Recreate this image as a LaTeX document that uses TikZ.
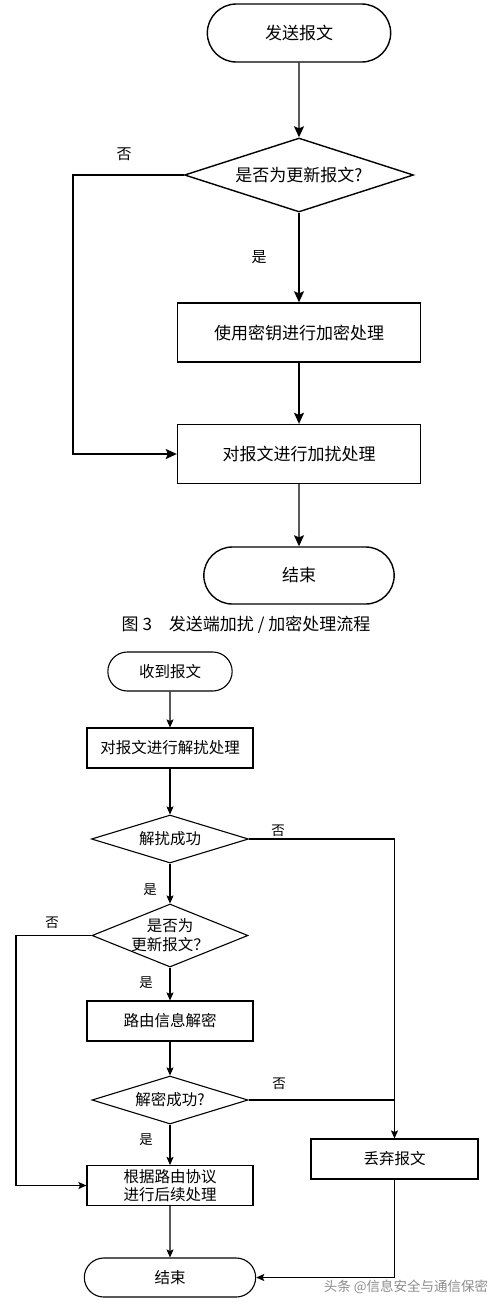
\documentclass[tikz,border=0pt]{standalone}
\usepackage{fontspec}
\setmainfont{Noto Sans CJK SC}
\usetikzlibrary{positioning,arrows.meta,shapes.geometric,shapes.misc}

\newcommand\toptxt{\fontsize{17}{20}\selectfont}
\newcommand\bottxt{\fontsize{15.5}{19}\selectfont}

\begin{document}
\begin{tikzpicture}[
    x=1pt, y=-1pt,
    term/.style={draw, rounded rectangle, line width=1.4pt,
                 minimum width=190pt, minimum height=58pt, font=\toptxt},
    proc/.style={draw, line width=1.4pt, minimum width=243pt,
                 minimum height=59pt, align=center, font=\toptxt},
    dia/.style={draw, diamond, line width=1.4pt, inner sep=0pt},
    every label/.style={align=center, font=\toptxt},
    op/.style={->, >={Stealth[length=11pt, width=10pt, inset=2pt]},
               line width=1.4pt},
    yn/.style={font=\fontsize{15}{15}\selectfont},
  ]
  \useasboundingbox (0,0) rectangle (494,1304);

  % --- Figure 3: sender side ---
  \begin{scope}
    \node[term] (send) at (299,33) {发送报文};
    \node[dia, minimum width=229pt, minimum height=74pt,
          label={center:是否为更新报文?}] (upd1) at (299,175) {};
    \node[proc] (enc) at (299,332.5) {使用密钥进行加密处理};
    \node[proc] (scr) at (299,454) {对报文进行加扰处理};
    \node[term, minimum width=197pt, minimum height=57pt] (end1) at (299,575.5) {结束};
    \coordinate (lft1) at (73,454);
    \draw[op] (send) -- (upd1);
    \draw[op] (upd1) -- (enc);
    \draw[op] (enc) -- (scr);
    \draw[op] (scr) -- (end1);
    \draw[op] (upd1.west) -| (lft1) -- (scr.west);
    \node[yn] (no1) at (124,154) {否};
    \node[yn] (yes1) at (259,257) {是};
    \node[font=\toptxt] (cap1) at (246,625) {图 3\quad 发送端加扰 / 加密处理流程};
  \end{scope}

  % --- receiver side ---
  \begin{scope}[
      term/.append style={line width=1.1pt, font=\bottxt},
      proc/.append style={line width=1.1pt, minimum width=166pt,
                          minimum height=40pt, font=\bottxt},
      dia/.append style={line width=1.1pt},
      every label/.append style={font=\bottxt},
      op/.style={->, >={Stealth[length=8pt, width=7pt, inset=1.5pt]},
                 line width=1.1pt},
      yn/.append style={font=\fontsize{13.5}{14}\selectfont},
    ]
    \node[term, minimum width=131pt, minimum height=39pt] (recv) at (170,671.5) {收到报文};
    \node[proc] (descr) at (170,748) {对报文进行解扰处理};
    \node[dia, minimum width=157pt, minimum height=48pt,
          label={center:解扰成功}] (ok1) at (170,839) {};
    \node[dia, minimum width=156pt, minimum height=63pt,
          label={center:是否为\\更新报文？}] (upd2) at (170,935.5) {};
    \node[proc] (dec) at (170,1021) {路由信息解密};
    \node[dia, minimum width=156pt, minimum height=48pt,
          label={center:解密成功?}] (ok2) at (170,1100) {};
    \node[proc, font=\fontsize{15.5}{18}\selectfont] (route) at (170,1185.5)
      {根据路由协议\\进行后续处理};
    \node[proc, minimum width=167pt] (drop) at (394.5,1159) {丢弃报文};
    \node[term, minimum width=178pt, minimum height=39pt] (end2) at (170,1277.5) {结束};
    \coordinate (lft2) at (16,1185.5);
    \draw[op] (recv) -- (descr);
    \draw[op] (descr) -- (ok1);
    \draw[op] (ok1) -- (upd2);
    \draw[op] (upd2) -- (dec);
    \draw[op] (dec) -- (ok2);
    \draw[op] (ok2) -- (route);
    \draw[op] (route) -- (end2);
    \draw[op] (ok1.east) -| (drop.north);
    \draw[line width=1.1pt] (ok2.east) -- (ok2.east -| drop.north);
    \draw[op] (upd2.west) -| (lft2) -- (route.west);
    \draw[op] (drop.south) |- (end2.east);
    \node[yn] (no2) at (278,831) {否};
    \node[yn] (yes2) at (150,890) {是};
    \node[yn] (no3) at (52,923) {否};
    \node[yn] (yes3) at (146,983) {是};
    \node[yn] (no4) at (279,1084) {否};
    \node[yn] (yes4) at (146,1140) {是};
  \end{scope}

  \node[text=black!45, font=\fontsize{13.5}{14}\selectfont] (wm) at (406,1287)
    {头条 @信息安全与通信保密};
\end{tikzpicture}
\end{document}
